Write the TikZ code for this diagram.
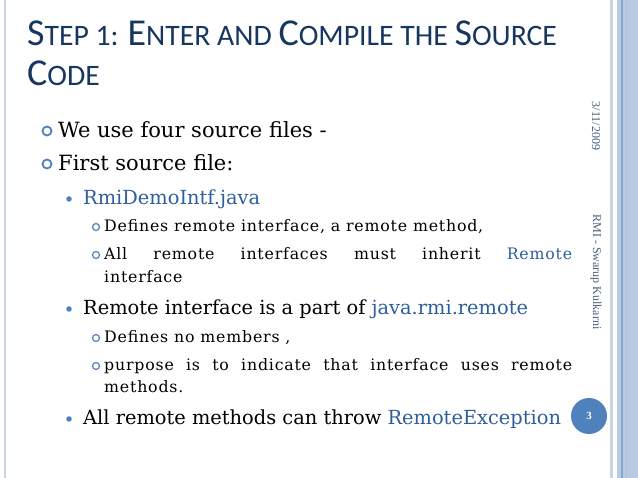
\documentclass[tikz,border=0pt]{standalone}
\usepackage{fontspec}
\setmainfont{DejaVu Serif}
\newfontfamily\titlef{Carlito}
\newfontfamily\bodyf{DejaVu Serif}
\newfontfamily\bodysp[LetterSpace=5]{DejaVu Serif}
\newfontfamily\smallf{Liberation Serif}
\definecolor{tblue}{HTML}{17375E}
\definecolor{lblue}{HTML}{2F5E9C}
\definecolor{accent}{HTML}{4F81BD}
\definecolor{band}{HTML}{B9C9E0}
\begin{document}
\begin{tikzpicture}[x=1pt,y=-1pt,
  tx/.style={anchor=base west,inner sep=0pt,text=black},
  l1/.style={tx,font=\bodyf\fontsize{21}{24}\selectfont},
  l2/.style={tx,font=\bodyf\fontsize{19.4}{24}\selectfont},
  l3/.style={tx,font=\bodysp\fontsize{15.8}{20}\selectfont},
  b1/.style={circle,draw=accent,line width=1.8pt,minimum size=9pt,inner sep=0pt},
  b2/.style={circle,fill=accent,minimum size=5.5pt,inner sep=0pt},
  b3/.style={circle,draw=accent,line width=1.2pt,minimum size=7pt,inner sep=0pt}]
\useasboundingbox (0,0) rectangle (638,478);
\fill[white] (0,0) rectangle (638,478);
\fill[band!80] (4,0) rectangle (6,478);
\fill[band!80] (610,0) rectangle (613,478);
\fill[band] (617,0) rectangle (638,478);
\fill[accent!70] (621,0) rectangle (623,478);
\fill[accent!50] (626,0) rectangle (627,478);
% title
\node[tx,text=tblue,font=\titlef\fontsize{29.7}{30}\selectfont] (t1) at (27,46)
  {{\fontsize{38}{40}\selectfont S}TEP 1: {\fontsize{38}{40}\selectfont E}NTER AND {\fontsize{38}{40}\selectfont C}OMPILE THE {\fontsize{38}{40}\selectfont S}OURCE};
\node[tx,text=tblue,font=\titlef\fontsize{29.7}{30}\selectfont] (t2) at (27,86)
  {{\fontsize{38}{40}\selectfont C}ODE};
% bullets
\node[b1] (p1) at (47,131) {}; \node[l1] (a1) at (58,138) {We use four source files -};
\node[b1] (p2) at (47,164) {}; \node[l1] (a2) at (58,171) {First source file:};
\node[b2] (p3) at (69,199) {}; \node[l2,text=lblue] (a3) at (83,205) {RmiDemoIntf.java};
\node[b3] (p4) at (96,227) {}; \node[l3] (a4) at (104,232) {Defines remote interface, a remote method,};
\node[b3] (p5) at (96,255) {}; \node[l3] (a5) at (104,260) {\makebox[468pt][s]{All remote interfaces must inherit \textcolor{lblue}{Remote}}};
\node[l3] (a6) at (104,283) {interface};
\node[b2] (p6) at (69,309) {}; \node[l2] (a7) at (83,315) {Remote interface is a part of \textcolor{lblue}{java.rmi.remote}};
\node[b3] (p7) at (96,338) {}; \node[l3] (a8) at (104,343) {Defines no members ,};
\node[b3] (p8) at (96,366) {}; \node[l3] (a9) at (104,371) {\makebox[468pt][s]{purpose is to indicate that interface uses remote}};
\node[l3] (a10) at (104,393) {methods.};
\node[b2] (p9) at (69,419) {}; \node[l2] (a11) at (83,425) {All remote methods can throw \textcolor{lblue}{RemoteException}};
% footer
\node[circle,fill=accent,minimum size=36pt,inner sep=0pt,text=white,font=\smallf\fontsize{11}{12}\selectfont\bfseries] (pg) at (589,416) {3};
\node[rotate=-90,text=tblue!80,font=\smallf\fontsize{12}{14}\selectfont] (dt) at (596,126) {3/11/2009};
\node[rotate=-90,text=tblue!80,font=\smallf\fontsize{12}{14}\selectfont] (au) at (596,272) {RMI - Swarup Kulkarni};
\end{tikzpicture}
\end{document}
